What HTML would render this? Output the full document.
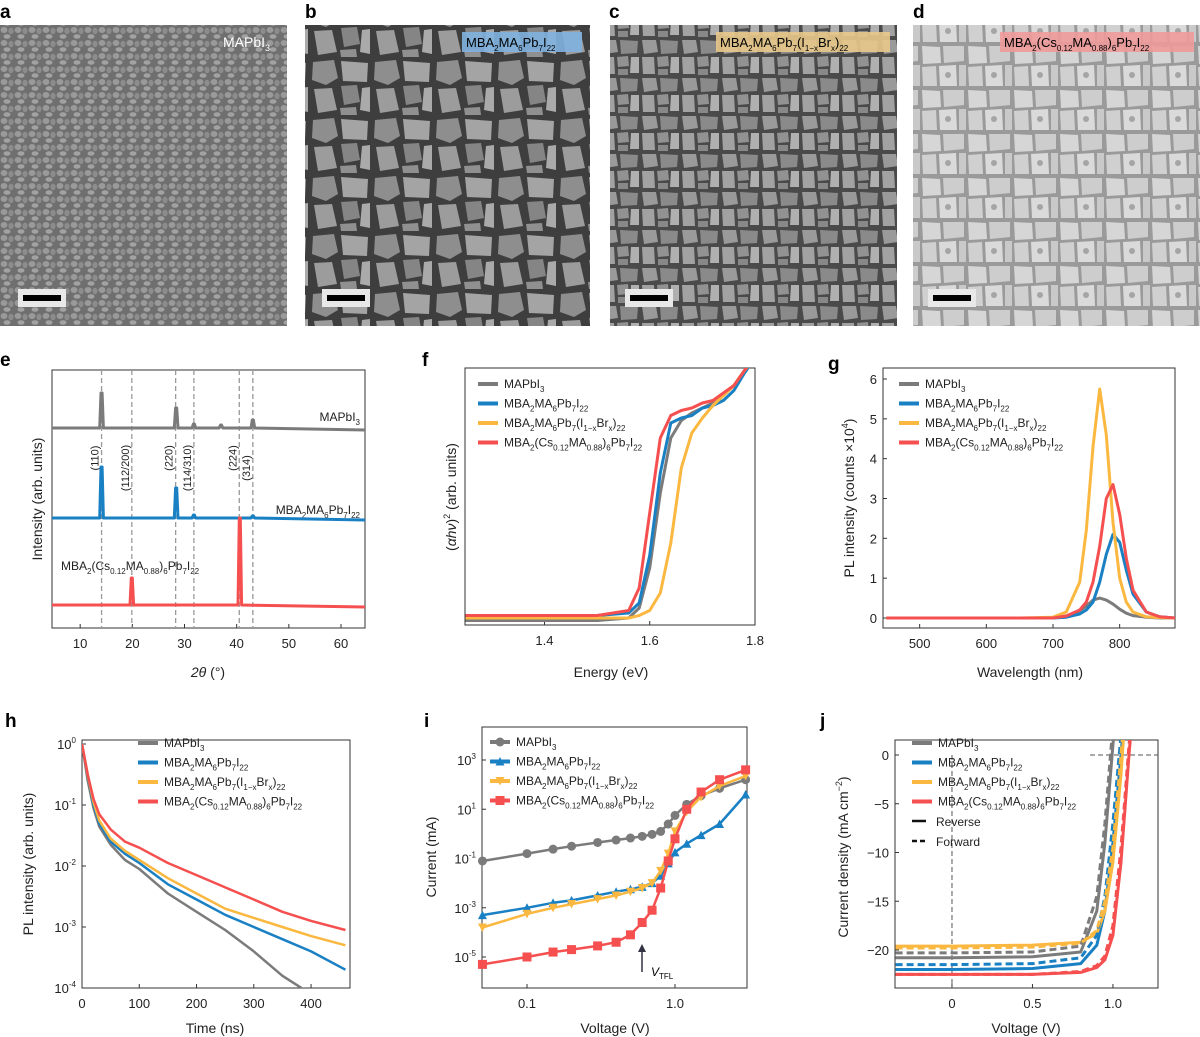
<!DOCTYPE html>
<html><head><meta charset="utf-8"><style>
html,body{margin:0;padding:0;background:#fff}
svg{display:block;font-family:"Liberation Sans",Arial,sans-serif}
</style></head><body>
<svg id="fig" width="1200" height="1037" viewBox="0 0 1200 1037" xmlns="http://www.w3.org/2000/svg">
<defs>
<pattern id="pa" width="14" height="13" patternUnits="userSpaceOnUse"><rect width="14" height="13" fill="#6f6f6f"/><ellipse cx="4" cy="4" rx="3.4" ry="3" fill="#9a9a9a"/><ellipse cx="11" cy="5" rx="2.6" ry="3.2" fill="#8c8c8c"/><ellipse cx="7" cy="10.5" rx="3.5" ry="2.3" fill="#a2a2a2"/></pattern>
<pattern id="pb" width="62" height="58" patternUnits="userSpaceOnUse"><rect width="62" height="58" fill="#3e3e3e"/><polygon points="3,4 24,2 28,20 16,27 2,22" fill="#8e8e8e"/><polygon points="31,3 58,5 57,24 33,23" fill="#a4a4a4"/><polygon points="4,31 22,30 27,52 8,55" fill="#9c9c9c"/><polygon points="31,28 47,27 50,44 34,47" fill="#858585"/><polygon points="52,30 60,29 60,54 50,52" fill="#aaaaaa"/><polygon points="30,50 46,49 47,57 31,57" fill="#909090"/></pattern>
<pattern id="pc" width="40" height="38" patternUnits="userSpaceOnUse"><rect width="40" height="38" fill="#4a4a4a"/><polygon points="2,2 16,2 18,14 4,16" fill="#9a9a9a"/><polygon points="20,2 38,3 37,15 21,16" fill="#8a8a8a"/><polygon points="2,19 14,19 15,36 3,36" fill="#a2a2a2"/><polygon points="17,19 28,18 29,28 18,29" fill="#929292"/><polygon points="31,19 39,19 39,35 30,35" fill="#b0b0b0"/><polygon points="18,31 28,31 28,37 18,37" fill="#888"/></pattern>
<pattern id="pd" width="46" height="44" patternUnits="userSpaceOnUse"><rect width="46" height="44" fill="#9a9a9a"/><polygon points="2,2 20,3 21,19 3,20" fill="#d6d6d6"/><polygon points="23,2 44,2 44,17 24,19" fill="#cdcdcd"/><polygon points="2,23 16,22 17,42 3,42" fill="#d0d0d0"/><polygon points="19,22 36,21 37,42 20,42" fill="#dadada"/><polygon points="39,21 46,21 46,42 39,42" fill="#c9c9c9"/><circle cx="28" cy="31" r="3" fill="#a5a5a5"/></pattern>
<clipPath id="ce"><rect x="52" y="370" width="313" height="258"/></clipPath>
<clipPath id="cf"><rect x="465" y="368" width="290" height="257"/></clipPath>
<clipPath id="cg"><rect x="883" y="368" width="292" height="260"/></clipPath>
<clipPath id="ch"><rect x="82" y="740" width="268" height="248"/></clipPath>
<clipPath id="ci"><rect x="482" y="727" width="265" height="261"/></clipPath>
<clipPath id="cj"><rect x="895" y="740" width="263" height="248"/></clipPath>
</defs>

<!-- SEM panels -->
<g><rect x="0" y="25" width="287" height="301" fill="url(#pa)"/>
<text x="223" y="47" fill="#fff" font-size="14">MAPbI<tspan font-size="9" dy="4">3</tspan></text>
<rect x="18" y="289" width="48" height="18" fill="#e8e8e8"/><rect x="23" y="295" width="38" height="6" fill="#000"/></g>
<g><rect x="305" y="25" width="285" height="301" fill="url(#pb)"/>
<rect x="462" y="32" width="120" height="20" fill="#7fb2e0" opacity="0.9"/><text x="466" y="47" font-size="13">MBA<tspan font-size="8" dy="4">2</tspan><tspan dy="-4">MA</tspan><tspan font-size="8" dy="4">6</tspan><tspan dy="-4">Pb</tspan><tspan font-size="8" dy="4">7</tspan><tspan dy="-4">I</tspan><tspan font-size="8" dy="4">22</tspan></text>
<rect x="322" y="289" width="48" height="18" fill="#e8e8e8"/><rect x="327" y="295" width="38" height="6" fill="#000"/></g>
<g><rect x="610" y="25" width="287" height="301" fill="url(#pc)"/>
<rect x="716" y="32" width="174" height="20" fill="#e8c98a" opacity="0.9"/><text x="720" y="47" font-size="13">MBA<tspan font-size="8" dy="4">2</tspan><tspan dy="-4">MA</tspan><tspan font-size="8" dy="4">6</tspan><tspan dy="-4">Pb</tspan><tspan font-size="8" dy="4">7</tspan><tspan dy="-4">(I</tspan><tspan font-size="8" dy="4">1−x</tspan><tspan dy="-4">Br</tspan><tspan font-size="8" dy="4">x</tspan><tspan dy="-4">)</tspan><tspan font-size="8" dy="4">22</tspan></text>
<rect x="625" y="289" width="48" height="18" fill="#e8e8e8"/><rect x="630" y="295" width="38" height="6" fill="#000"/></g>
<g><rect x="913" y="25" width="287" height="301" fill="url(#pd)"/>
<rect x="1000" y="32" width="194" height="20" fill="#f09a9a" opacity="0.9"/><text x="1004" y="47" font-size="13">MBA<tspan font-size="8" dy="4">2</tspan><tspan dy="-4">(Cs</tspan><tspan font-size="8" dy="4">0.12</tspan><tspan dy="-4">MA</tspan><tspan font-size="8" dy="4">0.88</tspan><tspan dy="-4">)</tspan><tspan font-size="8" dy="4">6</tspan><tspan dy="-4">Pb</tspan><tspan font-size="8" dy="4">7</tspan><tspan dy="-4">I</tspan><tspan font-size="8" dy="4">22</tspan></text>
<rect x="928" y="289" width="48" height="18" fill="#e8e8e8"/><rect x="933" y="295" width="38" height="6" fill="#000"/></g>

<g font-weight="bold" font-size="19">
<text x="0" y="18">a</text><text x="305" y="18">b</text><text x="609" y="18">c</text><text x="913" y="18">d</text>
<text x="0" y="366">e</text><text x="422" y="366">f</text><text x="828" y="370">g</text>
<text x="5" y="727">h</text><text x="424" y="727">i</text><text x="820" y="727">j</text>
</g>

<!-- plot frames -->
<g fill="none" stroke="#333" stroke-width="1">
<rect x="52" y="370" width="313" height="258"/><rect x="465" y="368" width="290" height="257"/>
<rect x="883" y="368" width="292" height="260"/><rect x="82" y="740" width="268" height="248"/>
<rect x="482" y="727" width="265" height="261"/><rect x="895" y="740" width="263" height="248"/>
</g>

<g font-size="14" fill="#222">
<text x="208" y="677" text-anchor="middle"><tspan font-style="italic">2θ</tspan> (°)</text>
<text transform="translate(42,499) rotate(-90)" text-anchor="middle">Intensity (arb. units)</text>
<text x="611" y="677" text-anchor="middle">Energy (eV)</text>
<text transform="translate(456,497) rotate(-90)" text-anchor="middle">(<tspan font-style="italic">αhν</tspan>)<tspan font-size="9" dy="-6">2</tspan><tspan dy="6"> (arb. units)</tspan></text>
<text x="1030" y="677" text-anchor="middle">Wavelength (nm)</text>
<text transform="translate(854,498) rotate(-90)" text-anchor="middle">PL intensity (counts ×10<tspan font-size="9" dy="-6">4</tspan><tspan dy="6">)</tspan></text>
<text x="215" y="1033" text-anchor="middle">Time (ns)</text>
<text transform="translate(33,864) rotate(-90)" text-anchor="middle">PL intensity (arb. units)</text>
<text x="615" y="1033" text-anchor="middle">Voltage (V)</text>
<text transform="translate(436,857) rotate(-90)" text-anchor="middle">Current (mA)</text>
<text x="1026" y="1033" text-anchor="middle">Voltage (V)</text>
<text transform="translate(848,857) rotate(-90)" text-anchor="middle">Current density (mA cm<tspan font-size="9" dy="-6">−2</tspan><tspan dy="6">)</tspan></text>
</g>

<!-- e annotations -->
<g font-size="12" fill="#222">
<text x="360" y="421" text-anchor="end">MAPbI<tspan font-size="8" dy="4">3</tspan></text>
<text x="360" y="514" text-anchor="end">MBA<tspan font-size="8" dy="4">2</tspan><tspan dy="-4">MA</tspan><tspan font-size="8" dy="4">6</tspan><tspan dy="-4">Pb</tspan><tspan font-size="8" dy="4">7</tspan><tspan dy="-4">I</tspan><tspan font-size="8" dy="4">22</tspan></text>
<text x="61" y="570">MBA<tspan font-size="8" dy="4">2</tspan><tspan dy="-4">(Cs</tspan><tspan font-size="8" dy="4">0.12</tspan><tspan dy="-4">MA</tspan><tspan font-size="8" dy="4">0.88</tspan><tspan dy="-4">)</tspan><tspan font-size="8" dy="4">6</tspan><tspan dy="-4">Pb</tspan><tspan font-size="8" dy="4">7</tspan><tspan dy="-4">I</tspan><tspan font-size="8" dy="4">22</tspan></text>
</g>

<!-- i annotation -->
<g>
<line x1="642" y1="972" x2="642" y2="950" stroke="#334" stroke-width="1.5"/><polygon points="638,952 646,952 642,944" fill="#334"/>
<text x="651" y="976" font-size="12" font-style="italic">V<tspan font-size="8" font-style="normal" dy="3">TFL</tspan></text>
</g>

<g id="marks"></g>
<g id="legends" font-size="12" fill="#222"></g>
</svg>
<script>
// ---------- data ----------
const colors = ["#7b7b7b","#1a80c4","#fbb840","#f54f4f"];
const seriesNames = ["MAPbI_{3}","MBA_{2}MA_{6}Pb_{7}I_{22}","MBA_{2}MA_{6}Pb_{7}(I_{1−x}Br_{x})_{22}","MBA_{2}(Cs_{0.12}MA_{0.88})_{6}Pb_{7}I_{22}"];
// e XRD
const eOffsets = [200,110,23];
const ePeakPos = [[14.1,28.4,31.8,37,43.1],[14.1,28.4,31.8,43.1],[19.9,40.6]];
const ePeakHeights = [[35,20,4,3,8],[51,30,3,2],[27,87]];
const eRefLines = [14.1,19.9,28.3,31.8,40.5,43.1];
const eRefLabels = ["(110)","(112/200)","(220)","(114/310)","(224)","(314)"];
const eTicks = [10,20,30,40,50,60];
// f Tauc
const fEnergy = [1.25,1.5,1.56,1.58,1.60,1.62,1.64,1.66,1.68,1.70,1.72,1.74,1.76,1.78,1.80];
const fGray  = [-0.01,-0.01,0,0.04,0.2,0.5,0.72,0.79,0.82,0.84,0.86,0.89,0.93,0.99,1.05];
const fBlue  = [0.01,0.01,0.02,0.06,0.25,0.58,0.78,0.8,0.81,0.84,0.85,0.87,0.91,0.98,1.04];
const fYellow= [0,0,0,0.01,0.03,0.1,0.3,0.6,0.74,0.8,0.85,0.89,0.93,0.99,1.04];
const fRed   = [0.01,0.01,0.03,0.12,0.42,0.72,0.81,0.83,0.84,0.86,0.87,0.9,0.93,0.99,1.05];
const fTicks = [1.4,1.6,1.8];
// g PL
const gWl = [450,650,700,720,740,750,760,770,780,790,800,810,820,840,860,883];
const gGray  = [0,0,0,0.05,0.18,0.3,0.45,0.5,0.45,0.35,0.22,0.12,0.06,0.02,0,0];
const gBlue  = [0,0,0,0.02,0.1,0.2,0.4,0.9,1.6,2.1,1.9,1.2,0.6,0.15,0.03,0];
const gYellow= [0,0,0.02,0.15,0.9,2.2,4.3,5.75,4.6,2.4,1.0,0.4,0.15,0.03,0.01,0];
const gRed   = [0,0,0,0.05,0.2,0.4,0.9,1.8,3.0,3.35,2.6,1.5,0.7,0.15,0.03,0];
const gXTicks = [500,600,700,800];
const gYTicks = [0,1,2,3,4,5,6];
// h TRPL (log10)
const hTime = [0,10,20,30,50,75,100,150,200,250,300,350,400,460];
const hGray  = [0,-0.6,-1.05,-1.35,-1.65,-1.9,-2.05,-2.45,-2.75,-3.05,-3.4,-3.8,-4.1,-4.2];
const hBlue  = [0,-0.5,-1.0,-1.3,-1.6,-1.8,-1.95,-2.3,-2.55,-2.8,-3.0,-3.2,-3.4,-3.7];
const hYellow= [0,-0.5,-0.95,-1.25,-1.55,-1.75,-1.9,-2.2,-2.45,-2.7,-2.85,-3.0,-3.15,-3.3];
const hRed   = [0,-0.5,-0.9,-1.15,-1.4,-1.6,-1.7,-1.95,-2.15,-2.35,-2.55,-2.75,-2.9,-3.05];
const hXTicks = [0,100,200,300,400];
const hYTicks = [0,-1,-2,-3,-4];
// i SCLC (log10 current)
const iVolt = [0.05,0.1,0.15,0.2,0.3,0.4,0.5,0.6,0.7,0.8,0.9,1.0,1.2,1.5,2,3];
const iGray  = [-1.1,-0.8,-0.62,-0.5,-0.35,-0.25,-0.17,-0.1,-0.02,0.1,0.4,0.75,1.2,1.55,1.85,2.2];
const iBlue  = [-3.3,-3.0,-2.8,-2.7,-2.5,-2.35,-2.25,-2.15,-2.0,-1.7,-1.2,-0.75,-0.4,-0.05,0.4,1.6];
const iYellow= [-3.8,-3.25,-3.0,-2.85,-2.65,-2.5,-2.35,-2.2,-2.0,-1.5,-0.8,0.1,0.9,1.5,1.95,2.35];
const iRed   = [-5.3,-5.0,-4.8,-4.7,-4.55,-4.4,-4.1,-3.6,-3.1,-2.2,-1.1,-0.2,1.0,1.7,2.2,2.6];
const iYTicks = [3,1,-1,-3,-5];
const iXTicks = [0.1,1.0];
// j J-V
const jVolt = [-0.35,0,0.5,0.8,0.9,0.95,1.0,1.05,1.1,1.15,1.2];
const jGrayRev  = [-20.8,-20.8,-20.7,-20.2,-16,-9,1,10,10,10,10];
const jBlueRev  = [-22,-22,-21.9,-21.4,-19.5,-16,-9,0,10,10,10];
const jYellowRev= [-19.6,-19.6,-19.5,-19.2,-18.3,-16,-11,-2,10,10,10];
const jRedRev   = [-22.5,-22.5,-22.5,-22.3,-21.8,-21,-18.5,-11,0,10,10];
const jGrayFwd  = [-20.3,-20.3,-20.2,-19.6,-14.5,-7,3,10,10,10,10];
const jBlueFwd  = [-21.5,-21.5,-21.4,-20.8,-18.5,-14.5,-7,2,10,10,10];
const jYellowFwd= [-19.8,-19.8,-19.7,-19.3,-18,-15,-9.5,0,10,10,10];
const jRedFwd   = [-22.5,-22.5,-22.5,-22.2,-21.6,-20.6,-17.5,-9.5,1,10,10];
const jXTicks = [0,0.5,1.0];
const jYTicks = [0,-5,-10,-15,-20];

// ---------- helpers ----------
const NS="http://www.w3.org/2000/svg";
const marks=document.getElementById('marks');
const legends=document.getElementById('legends');
function el(tag,attrs,parent){const e=document.createElementNS(NS,tag);for(const k in attrs)e.setAttribute(k,attrs[k]);(parent||marks).appendChild(e);return e;}
function lin(d0,d1,p0,p1){return v=>p0+(v-d0)*(p1-p0)/(d1-d0);}
function pathD(xs,ys,sx,sy){return xs.map((x,i)=>(i?'L':'M')+sx(x).toFixed(1)+','+sy(ys[i]).toFixed(1)).join('');}
function setLabel(t,s){t.innerHTML='';const parts=s.split(/(_\{[^}]*\})/);let sub=false;parts.forEach(p=>{if(!p)return;const ts=document.createElementNS(NS,'tspan');if(p.startsWith('_{')){ts.textContent=p.slice(2,-1);ts.setAttribute('font-size','8');ts.setAttribute('dy',sub?'0':'4');sub=true;}else{ts.textContent=p;if(sub){ts.setAttribute('dy','-4');}sub=false;}t.appendChild(ts);});}
function xtick(x,y,label){el('line',{x1:x,y1:y,x2:x,y2:y-4,stroke:'#333'});const t=el('text',{x:x,y:y+20,'text-anchor':'middle','font-size':'13',fill:'#222'});t.textContent=label;}
function ytick(x,y,label,exp){el('line',{x1:x,y1:y,x2:x+4,y2:y,stroke:'#333'});const t=el('text',{x:x-6,y:y+5,'text-anchor':'end','font-size':'13',fill:'#222'});if(exp!==undefined){t.innerHTML='10<tspan font-size="8" dy="-6">'+exp+'</tspan>';}else t.textContent=label;}
function legend(x,y,dy,idxs,markerFn,extra){idxs.forEach((k,i)=>{const yy=y+i*dy;const l=el('line',{x1:x,y1:yy,x2:x+20,y2:yy,stroke:colors[k],'stroke-width':4},legends);if(markerFn)markerFn(k,x+10,yy,legends);const t=el('text',{x:x+26,y:yy+4},legends);setLabel(t,seriesNames[k]);});}
function series(d,color,clip,name,w,dash){const p=el('path',{d:d,fill:'none',stroke:color,'stroke-width':w||2,'clip-path':'url(#'+clip+')','stroke-linejoin':'round'});if(dash)p.setAttribute('stroke-dasharray',dash);return p;}

// ---------- e ----------
{const sx=lin(4.6,64.6,52,365);const sy=v=>628-v;
eTicks.forEach(t=>xtick(sx(t),628,t));
eRefLines.forEach((v,i)=>{const l=el('line',{x1:sx(v),y1:370,x2:sx(v),y2:628,stroke:'#999','stroke-dasharray':'5,3','stroke-width':1.3});
const t=el('text',{transform:`translate(${sx(v)-3},${i%2?468:458}) rotate(-90)`,'text-anchor':'middle','font-size':'11',fill:'#222'});t.textContent=eRefLabels[i];});
const ecol=[colors[0],colors[1],colors[3]];
eOffsets.forEach((off,s)=>{let xs=[4.6],ys=[off];const pk=ePeakPos[s].map((p,i)=>[p,ePeakHeights[s][i]]).sort((a,b)=>a[0]-b[0]);
pk.forEach(([p,h])=>{xs.push(p-0.35,p-0.1,p+0.1,p+0.35);ys.push(off,off+h,off+h,off);});xs.push(64.6);ys.push(off-2);
series(pathD(xs,ys,sx,sy),ecol[s],'ce','e-xrd-curve',3);});}

// ---------- f ----------
{const sx=lin(1.249,1.8,465,755);const sy=lin(0,1,618,368);
fTicks.forEach(t=>xtick(sx(t),625,t.toFixed(1)));
[fGray,fBlue,fYellow,fRed].forEach((a,k)=>series(pathD(fEnergy,a,sx,sy),colors[k],'cf','f-tauc-curve',3));
legend(478,384,19.5,[0,1,2,3]);}

// ---------- g ----------
{const sx=lin(445,883,883,1175);const sy=lin(0,6,618,379);
gXTicks.forEach(t=>xtick(sx(t),628,t));gYTicks.forEach(t=>ytick(883,sy(t),t));
[gGray,gBlue,gYellow,gRed].forEach((a,k)=>series(pathD(gWl,a,sx,sy),colors[k],'cg','g-pl-curve',3));
legend(899,384,19.5,[0,1,2,3]);}

// ---------- h ----------
{const sx=lin(0,468,82,350);const sy=lin(0,-4,744,988);
hXTicks.forEach(t=>xtick(sx(t),988,t));hYTicks.forEach(t=>ytick(82,sy(t),'',t));
[hGray,hBlue,hYellow,hRed].forEach((a,k)=>series(pathD(hTime,a,sx,sy),colors[k],'ch','h-trpl-curve',2.5));
legend(138,743,19.5,[0,1,2,3]);}

// ---------- i ----------
{const sx=v=>675+Math.log10(v)*148;const sy=lin(3,-5,760,957);
iXTicks.forEach(t=>xtick(sx(t),988,t.toFixed(1)));iYTicks.forEach(t=>ytick(482,sy(t),'',t));
const mk=(k,x,y,par)=>{const g=par||marks;let m;if(k===0)m=el('circle',{cx:x,cy:y,r:4.5,fill:colors[k]},g);else if(k===1)m=el('polygon',{points:`${x-4.5},${y+4} ${x+4.5},${y+4} ${x},${y-4.5}`,fill:colors[k]},g);else if(k===2)m=el('polygon',{points:`${x-4.5},${y-4} ${x+4.5},${y-4} ${x},${y+4.5}`,fill:colors[k]},g);else m=el('rect',{x:x-4.5,y:y-4.5,width:9,height:9,fill:colors[k]},g);};
[iGray,iBlue,iYellow,iRed].forEach((a,k)=>{series(pathD(iVolt,a,sx,sy),colors[k],'ci','i-sclc-curve',2.5);iVolt.forEach((v,i)=>mk(k,sx(v),sy(a[i])));});
legend(490,742,19.5,[0,1,2,3],mk);}

// ---------- j ----------
{const sx=lin(-0.354,1.28,895,1158);const sy=lin(0,-20,755,950);
jXTicks.forEach(t=>xtick(sx(t),988,t===0?'0':t.toFixed(1)));jYTicks.forEach(t=>ytick(895,sy(t),t===0?'0':'−'+(-t)));
el('line',{x1:sx(0),y1:755,x2:sx(0),y2:988,stroke:'#555','stroke-dasharray':'5,3'});el('line',{x1:1090,y1:755,x2:1158,y2:755,stroke:'#555','stroke-dasharray':'5,3'});
[jGrayRev,jBlueRev,jYellowRev,jRedRev].forEach((a,k)=>series(pathD(jVolt,a,sx,sy),colors[k],'cj','j-reverse-curve',3));
[jGrayFwd,jBlueFwd,jYellowFwd,jRedFwd].forEach((a,k)=>series(pathD(jVolt,a,sx,sy),colors[k],'cj','j-forward-curve',3,'7,4'));
legend(912,743,19.5,[0,1,2,3]);
const l1=el('line',{x1:912,y1:821,x2:926,y2:821,stroke:'#111','stroke-width':2.5},legends);
const t1=el('text',{x:936,y:826},legends);t1.textContent='Reverse';
const l2=el('line',{x1:912,y1:841,x2:926,y2:841,stroke:'#111','stroke-width':2.5,'stroke-dasharray':'5,3'},legends);
const t2=el('text',{x:936,y:846},legends);t2.textContent='Forward';}
</script>
</body></html>
